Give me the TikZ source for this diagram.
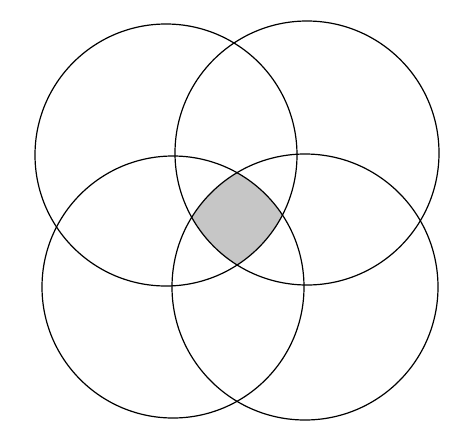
\documentclass[tikz,border=0pt]{standalone}
\begin{document}
\begin{tikzpicture}[x=1pt,y=-1pt,circ/.style={draw=black,line width=1.2pt}]
\useasboundingbox (0,0) rectangle (474,437);
\coordinate (tl) at (166,155);
\coordinate (tr) at (307,153);
\coordinate (bl) at (173,287);
\coordinate (br) at (305,287);
\begin{scope}
\clip (tl) circle (131);
\clip (tr) circle (132);
\clip (bl) circle (131);
\fill[gray!45] (br) circle (133);
\end{scope}
\draw[circ] (tl) circle (131);
\draw[circ] (tr) circle (132);
\draw[circ] (bl) circle (131);
\draw[circ] (br) circle (133);
\end{tikzpicture}
\end{document}
